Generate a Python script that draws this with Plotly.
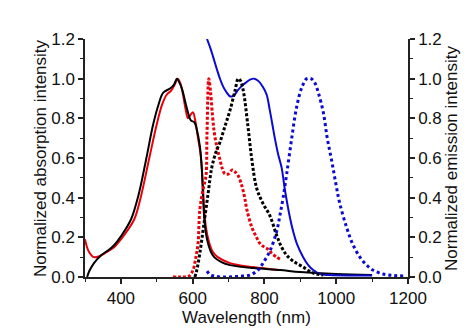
import plotly.graph_objects as go

# Black solid (absorption)
abs_black_x = [306, 312, 325, 345, 365, 381, 400, 428, 450, 470, 490, 505, 518, 537, 548, 556, 563, 570, 584, 595, 605, 612, 620, 625, 629, 633, 640, 650, 660, 680, 704, 768, 843, 900, 1000, 1100]
abs_black_y = [0.0, 0.03, 0.07, 0.11, 0.135, 0.16, 0.205, 0.29, 0.42, 0.59, 0.77, 0.87, 0.93, 0.95, 0.97, 1.0, 0.98, 0.95, 0.85, 0.79, 0.78, 0.74, 0.66, 0.56, 0.40, 0.28, 0.19, 0.13, 0.10, 0.075, 0.06, 0.045, 0.035, 0.025, 0.015, 0.01]

# Red solid (absorption)
abs_red_x = [300, 310, 325, 340, 360, 381, 400, 437, 455, 478, 500, 515, 528, 540, 550, 558, 565, 572, 580, 587, 595, 601, 607, 615, 622, 628, 632, 637, 645, 655, 670, 704, 768, 843]
abs_red_y = [0.19, 0.13, 0.10, 0.105, 0.125, 0.15, 0.19, 0.29, 0.40, 0.59, 0.77, 0.87, 0.92, 0.94, 0.97, 1.0, 0.98, 0.93, 0.85, 0.80, 0.82, 0.83, 0.79, 0.70, 0.62, 0.48, 0.35, 0.25, 0.18, 0.13, 0.10, 0.07, 0.05, 0.035]

# Blue solid
abs_blue_x = [640, 650, 657, 667, 676, 685, 695, 705, 715, 725, 735, 748, 760, 772, 785, 795, 806, 815, 822, 830, 838, 848, 857, 871, 880, 890, 908, 922, 936, 955, 980, 1100]
abs_blue_y = [1.2, 1.15, 1.11, 1.05, 1.0, 0.96, 0.93, 0.91, 0.915, 0.94, 0.96, 0.98, 0.995, 1.0, 0.985, 0.96, 0.92, 0.84, 0.77, 0.69, 0.62, 0.55, 0.44, 0.30, 0.23, 0.17, 0.10, 0.06, 0.035, 0.015, 0.01, 0.008]

# Red dotted (emission)
em_red_x = [545, 560, 575, 590, 601, 608, 615, 620, 630, 637, 640, 645, 650, 655, 660, 667, 675, 682, 690, 700, 710, 718, 727, 737, 745, 751, 765, 778, 787, 800, 810, 820, 834, 843]
em_red_y = [0.0, 0.0, 0.0, 0.005, 0.035, 0.09, 0.17, 0.34, 0.45, 0.51, 0.73, 1.0, 0.93, 0.82, 0.73, 0.66, 0.60, 0.55, 0.52, 0.52, 0.54, 0.53, 0.51, 0.46, 0.40, 0.34, 0.25, 0.20, 0.17, 0.15, 0.14, 0.12, 0.10, 0.09]

# Black dotted (emission)
em_black_x = [606, 611, 620, 630, 643, 653, 665, 676, 690, 704, 718, 727, 733, 741, 754, 765, 778, 796, 815, 834, 848, 862, 880, 908, 936, 964]
em_black_y = [0.0, 0.03, 0.12, 0.25, 0.42, 0.55, 0.63, 0.68, 0.76, 0.84, 0.94, 1.0, 0.99, 0.94, 0.76, 0.59, 0.45, 0.37, 0.31, 0.21, 0.15, 0.11, 0.08, 0.05, 0.02, 0.01]

# Blue dotted (emission)
em_blue_x = [640, 650, 660, 680, 700, 720, 740, 760, 775, 787, 796, 815, 834, 843, 852, 862, 876, 890, 905, 918, 930, 940, 950, 964, 975, 988, 1000, 1010, 1029, 1045, 1066, 1085, 1102, 1130, 1160, 1190]
em_blue_y = [0.03, 0.01, 0.005, 0.0, 0.0, 0.002, 0.005, 0.01, 0.025, 0.045, 0.07, 0.13, 0.23, 0.31, 0.40, 0.52, 0.70, 0.86, 0.96, 1.0, 1.0, 0.98, 0.93, 0.83, 0.70, 0.58, 0.46, 0.37, 0.25, 0.17, 0.10, 0.06, 0.035, 0.015, 0.008, 0.005]

RED = "#e8000b"
BLUE = "#0a0ad2"
BLACK = "#000000"
FONT = "Liberation Sans, Arial, sans-serif"

fig = go.Figure()
fig.add_trace(go.Scatter(x=abs_red_x, y=abs_red_y, mode="lines", line=dict(color=RED, width=2), line_shape="spline"))
fig.add_trace(go.Scatter(x=abs_black_x, y=abs_black_y, mode="lines", line=dict(color=BLACK, width=2), line_shape="spline"))
fig.add_trace(go.Scatter(x=abs_blue_x, y=abs_blue_y, mode="lines", line=dict(color=BLUE, width=2), line_shape="spline"))
fig.add_trace(go.Scatter(x=em_red_x, y=em_red_y, mode="lines", line=dict(color=RED, width=3, dash="3px,2px"), line_shape="spline"))
fig.add_trace(go.Scatter(x=em_black_x, y=em_black_y, mode="lines", line=dict(color=BLACK, width=3, dash="3px,2px"), line_shape="spline"))
fig.add_trace(go.Scatter(x=em_blue_x, y=em_blue_y, mode="lines", line=dict(color=BLUE, width=3, dash="3px,3px"), line_shape="spline", yaxis="y2"))

axis_common = dict(showline=True, linecolor="#222", linewidth=1.5, ticks="outside", ticklen=5, tickwidth=1.5,
                   tickcolor="#222", showgrid=False, zeroline=False,
                   tickfont=dict(family=FONT, size=17, color="#111"))

fig.update_layout(
    width=474, height=333,
    margin=dict(l=85, r=66, t=39, b=56),
    paper_bgcolor="white", plot_bgcolor="white",
    showlegend=False,
    xaxis=dict(range=[300, 1200], dtick=200, tick0=0,
               minor=dict(dtick=100, ticks="outside", ticklen=3, tickcolor="#222", tickwidth=1.2),
               **axis_common),
    yaxis=dict(range=[0, 1.2], dtick=0.2, tick0=0, tickformat=".1f",
               minor=dict(dtick=0.1, ticks="outside", ticklen=3, tickcolor="#222", tickwidth=1.2),
               **axis_common),
    yaxis2=dict(range=[0, 1.2], dtick=0.2, tick0=0, tickformat=".1f", overlaying="y", side="right",
                minor=dict(dtick=0.1, ticks="outside", ticklen=3, tickcolor="#222", tickwidth=1.2),
                **axis_common),
    annotations=[
        dict(text="Wavelength (nm)", xref="paper", yref="paper", x=0.50, y=-0.172, xanchor="center", yanchor="middle",
             showarrow=False, font=dict(family=FONT, size=17, color="#111")),
        dict(text="Normalized absorption intensity", xref="paper", yref="paper", x=-0.139, y=0.5, xanchor="center",
             yanchor="middle", textangle=-90, showarrow=False, font=dict(family=FONT, size=17, color="#111")),
        dict(text="Normalized emission intensity", xref="paper", yref="paper", x=1.133, y=0.5, xanchor="center",
             yanchor="middle", textangle=-90, showarrow=False, font=dict(family=FONT, size=17, color="#111")),
    ],
)

fig.write_html("out.html")
